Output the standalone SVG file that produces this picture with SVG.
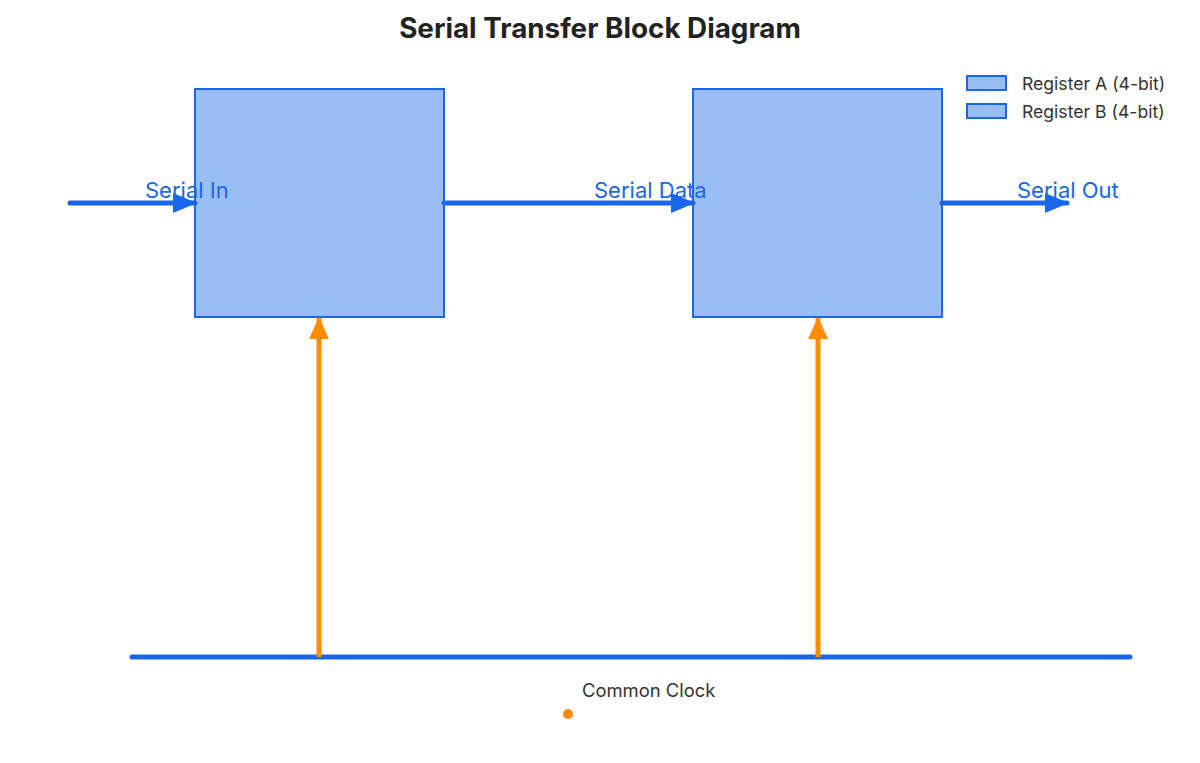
<svg xmlns="http://www.w3.org/2000/svg" width="1200" height="763" viewBox="0 0 1200 763">
<style>
text{font-family:Inter,"Liberation Sans",sans-serif}
.reg{fill:#9bbdf5;stroke:#1a66e8;stroke-width:2}
.data{stroke:#1a66e8;stroke-width:5;stroke-linecap:round;fill:none}
.clk{stroke:#ff8c00;stroke-width:5;fill:none}
.lbl{font-size:22px;fill:#1a66e8}
.leg{font-size:17.6px;fill:#333}
</style>
<defs>
<marker id="ab" viewBox="0 0 24 20" refX="22" refY="10" markerWidth="24" markerHeight="20" markerUnits="userSpaceOnUse" orient="auto"><path d="M0,0L24,10L0,20Z" fill="#1a66e8"/></marker>
<marker id="ao" viewBox="0 0 22 20" refX="21" refY="10" markerWidth="22" markerHeight="20" markerUnits="userSpaceOnUse" orient="auto"><path d="M0,0L22,10L0,20Z" fill="#ff8c00"/></marker>
</defs>
<rect width="1200" height="763" fill="#fff"/>
<text x="600" y="38" text-anchor="middle" font-size="27.8" font-weight="bold" fill="#222">Serial Transfer Block Diagram</text>
<g id="legend">
<rect class="reg" x="967" y="76" width="39" height="14"/>
<text class="leg" x="1022" y="90">Register A (4-bit)</text>
<rect class="reg" x="967" y="104" width="39" height="14"/>
<text class="leg" x="1022" y="118">Register B (4-bit)</text>
</g>
<g id="regA"><rect class="reg" x="195" y="89" width="249" height="228"/></g>
<g id="regB"><rect class="reg" x="693" y="89" width="249" height="228"/></g>
<g id="clockbus">
<line class="data" x1="132" y1="657" x2="1130" y2="657"/>
<text x="582" y="697" font-size="18.4" fill="#333">Common Clock</text>
<circle cx="568" cy="714" r="5" fill="#ff8c00"/>
</g>
<g id="connectors">
<line class="data" x1="70" y1="203" x2="195" y2="203" marker-end="url(#ab)"/>
<line class="data" x1="444" y1="203" x2="693" y2="203" stroke-linecap="butt" marker-end="url(#ab)"/>
<line class="data" x1="942" y1="203" x2="1067" y2="203" stroke-linecap="butt" marker-end="url(#ab)"/>
<line class="clk" x1="319" y1="657" x2="319" y2="318" marker-end="url(#ao)"/>
<line class="clk" x1="818" y1="657" x2="818" y2="318" marker-end="url(#ao)"/>
</g>
<g id="labels">
<text class="lbl" x="145" y="198">Serial In</text>
<text class="lbl" x="594" y="198">Serial Data</text>
<text class="lbl" x="1017" y="198">Serial Out</text>
</g>
</svg>
